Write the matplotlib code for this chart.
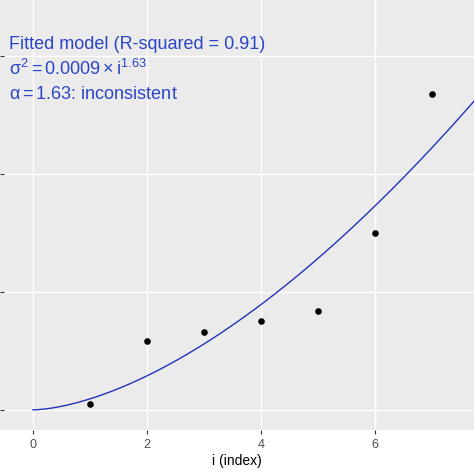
import numpy as np
import matplotlib
matplotlib.use("Agg")
import matplotlib.pyplot as plt

plt.rcParams['font.family'] = ['Liberation Sans', 'DejaVu Sans']
plt.rcParams['mathtext.fontset'] = 'custom'
plt.rcParams['mathtext.rm'] = 'Liberation Sans'
plt.rcParams['mathtext.it'] = 'Liberation Sans'

idx = [1, 2, 3, 4, 5, 6, 7]
variance = [0.0005, 0.0058, 0.0066, 0.0075, 0.0084, 0.0150, 0.0267]
coef, expo = 0.00093, 1.63

fig = plt.figure(figsize=(4.74, 4.74), dpi=100)
ax = fig.add_axes([0, 0.093, 1, 0.907])
ax.set_facecolor("#EBEBEB")
ax.grid(True, color="white", linewidth=1.0)
ax.set_axisbelow(True)
for s in ax.spines.values():
    s.set_visible(False)
ax.set_xlim(-0.58, 7.74)
ax.set_ylim(-0.0017, 0.0347)
ax.set_xticks([0, 2, 4, 6])
ax.set_yticks([0, 0.01, 0.02, 0.03])
ax.set_yticklabels([])
ax.tick_params(axis="both", color="#333333", length=3, labelsize=9, labelcolor="#4D4D4D")
ax.tick_params(axis="y", direction="in", pad=0)
xx = np.linspace(0, 7.74, 200)
ax.plot(xx, coef * xx**expo, color="#2233BB", linewidth=1.0)
ax.scatter(idx, variance, color="black", s=14, zorder=3)
ax.set_xlabel("i (index)", fontsize=10, labelpad=2)
blue = "#2A45C8"
ax.text(0.02, 0.885, "Fitted model (R-squared = 0.91)", transform=ax.transAxes, color=blue, fontsize=13)
ax.text(0.02, 0.825, r"$\sigma^2 = 0.0009 \times \mathrm{i}^{1.63}$", transform=ax.transAxes, color=blue, fontsize=13)
ax.text(0.02, 0.77, r"$\alpha = 1.63$: inconsistent", transform=ax.transAxes, color=blue, fontsize=13)
fig.savefig("out.png", dpi=100)
